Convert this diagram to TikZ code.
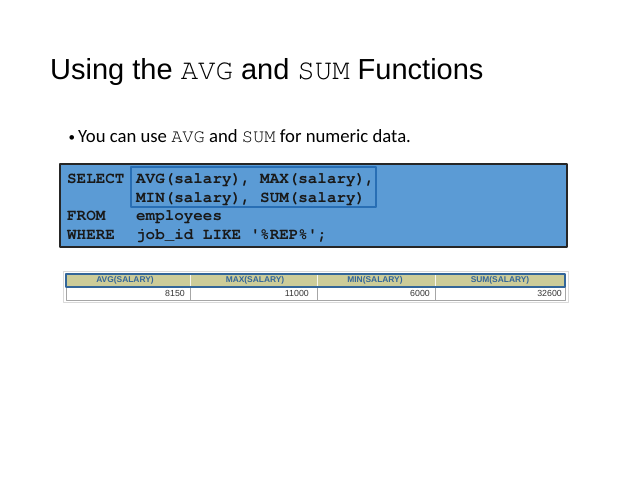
\documentclass[tikz,border=0pt]{standalone}
\usepackage{fontspec}
\setmainfont{Liberation Sans}
\setmonofont{TeX Gyre Cursor}
\newfontfamily\bodyfont{Carlito}
\definecolor{codeblue}{RGB}{91,155,213}
\definecolor{hlblue}{RGB}{40,110,180}
\definecolor{headtan}{RGB}{204,204,153}
\definecolor{headblue}{RGB}{51,102,153}
\tikzset{
  kw/.style={anchor=base west,inner sep=0,text=black!90,font=\fontsize{15.9}{18}\selectfont\ttfamily\bfseries},
  head/.style={inner sep=0,text=headblue,font=\fontsize{8.4}{10}\selectfont\bfseries},
  cell/.style={anchor=east,inner sep=0,text=black!80,font=\fontsize{8.8}{10}\selectfont}
}
\begin{document}
\begin{tikzpicture}[x=1pt,y=-1pt,line join=round,line cap=round]
  \useasboundingbox (0,0) rectangle (638,478);
  \node[anchor=base west,inner sep=0] (title) at (50,80)
    {\fontsize{29}{34}\selectfont Using the \texttt{AVG} and \texttt{SUM} Functions};
  \node[anchor=base west,inner sep=0] (dot) at (68.5,141.5) {\bodyfont\fontsize{13}{15}\selectfont •};
  \node[anchor=base west,inner sep=0] (bullet) at (78,143)
    {\bodyfont\fontsize{18.7}{22}\selectfont You can use \texttt{AVG} and \texttt{SUM} for numeric data.};
  % code box
  \draw[fill=codeblue,draw=black!85,line width=1.6pt] (60,164) rectangle (567,247);
  \draw[hlblue,line width=1.2pt] (131,167) rectangle (376,207);
  \node[kw] (select) at (67,184) {SELECT};
  \node[kw] (from) at (67,221) {FROM};
  \node[kw] (where) at (67,239.5) {WHERE};
  \node[kw] (cols1) at (136,184) {AVG(salary), MAX(salary),};
  \node[kw] (cols2) at (136,202.5) {MIN(salary), SUM(salary)};
  \node[kw] (tab) at (136,221) {employees};
  \node[kw] (cond) at (136,239.5) {job\_id LIKE '\%REP\%';};
  % result table
  \draw[black!15,line width=.6pt] (63,271) rectangle (568,302);
  \draw[black!35,line width=.6pt] (66,287) rectangle (565,300)
    (190,287) -- (190,300) (317,287) -- (317,300) (435,287) -- (435,300);
  \draw[fill=headtan,draw=none] (66,274) rectangle (565,287);
  \draw[white!85!headtan,line width=.8pt] (190,274) -- (190,287) (317,274) -- (317,287) (435,274) -- (435,287);
  \draw[headblue,line width=1.6pt] (66,274) rectangle (565,287);
  \node[head] (havg) at (125,280.5) {AVG(SALARY)};
  \node[head] (hmax) at (255,280.5) {MAX(SALARY)};
  \node[head] (hmin) at (375,280.5) {MIN(SALARY)};
  \node[head] (hsum) at (500,280.5) {SUM(SALARY)};
  \node[cell] (vavg) at (185,293.5) {8150};
  \node[cell] (vmax) at (309,293.5) {11000};
  \node[cell] (vmin) at (430,293.5) {6000};
  \node[cell] (vsum) at (562,293.5) {32600};
\end{tikzpicture}
\end{document}
